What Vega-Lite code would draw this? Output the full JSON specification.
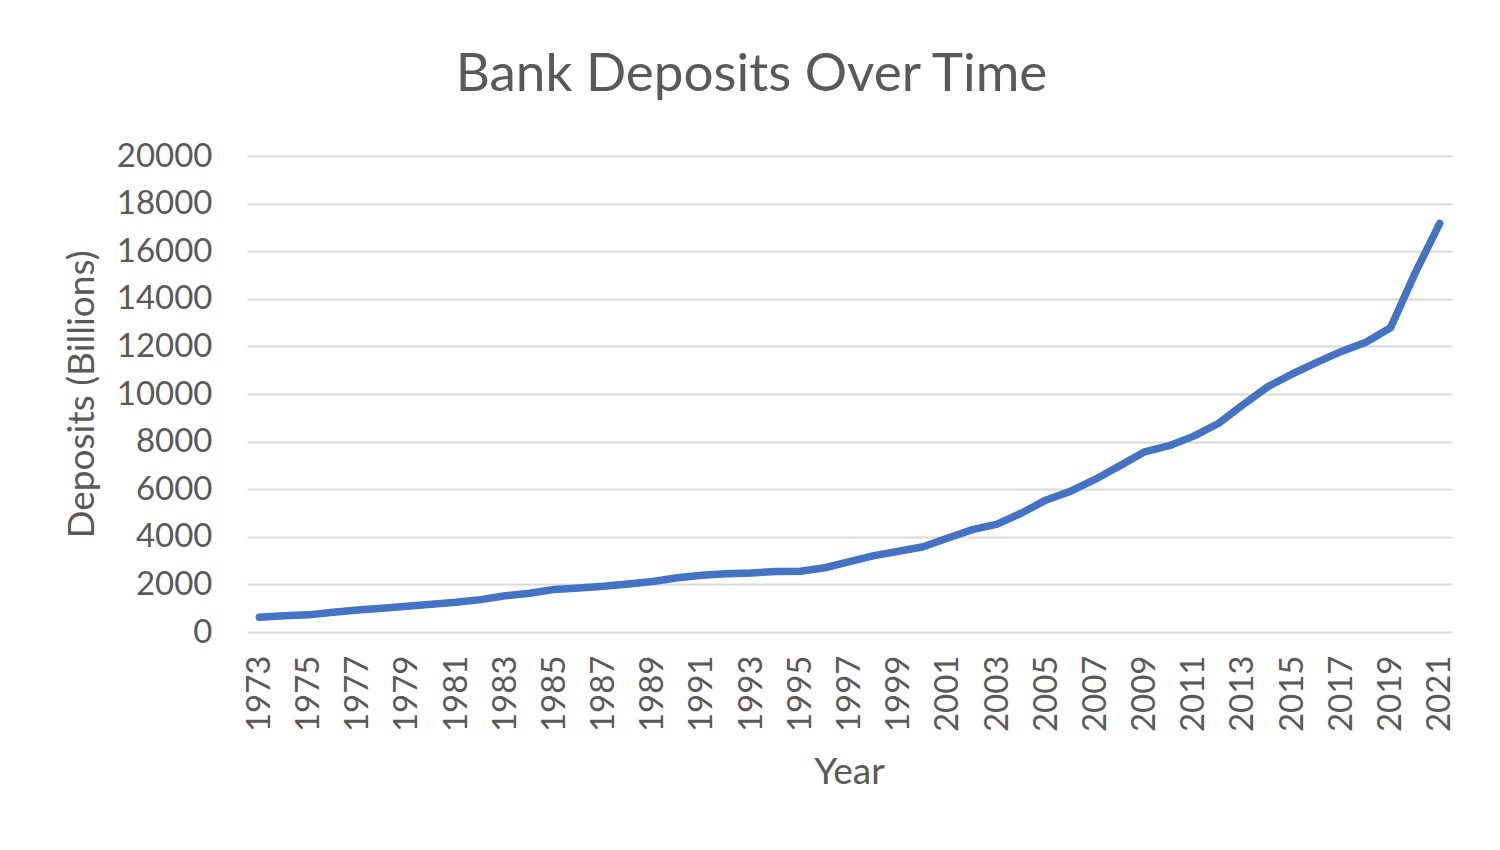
{
  "$schema": "https://vega.github.io/schema/vega-lite/v6.json",
  "width": 1205,
  "height": 476,
  "autosize": "none",
  "padding": {"left": 247, "top": 156, "right": 48, "bottom": 218},
  "background": "white",
  "title": {
    "text": "Bank Deposits Over Time",
    "font": "Lato",
    "fontSize": 53,
    "fontWeight": "normal",
    "color": "#595959",
    "anchor": "middle",
    "frame": "group",
    "dx": -98,
    "offset": 38
  },
  "data": {
    "values": [
      {"Year": 1973, "Deposits": 620},
      {"Year": 1974, "Deposits": 680},
      {"Year": 1975, "Deposits": 720},
      {"Year": 1976, "Deposits": 830},
      {"Year": 1977, "Deposits": 920},
      {"Year": 1978, "Deposits": 1000},
      {"Year": 1979, "Deposits": 1080},
      {"Year": 1980, "Deposits": 1170},
      {"Year": 1981, "Deposits": 1250},
      {"Year": 1982, "Deposits": 1360},
      {"Year": 1983, "Deposits": 1520},
      {"Year": 1984, "Deposits": 1630},
      {"Year": 1985, "Deposits": 1790},
      {"Year": 1986, "Deposits": 1850},
      {"Year": 1987, "Deposits": 1920},
      {"Year": 1988, "Deposits": 2020},
      {"Year": 1989, "Deposits": 2120},
      {"Year": 1990, "Deposits": 2280},
      {"Year": 1991, "Deposits": 2380},
      {"Year": 1992, "Deposits": 2450},
      {"Year": 1993, "Deposits": 2480},
      {"Year": 1994, "Deposits": 2540},
      {"Year": 1995, "Deposits": 2550},
      {"Year": 1996, "Deposits": 2700},
      {"Year": 1997, "Deposits": 2960},
      {"Year": 1998, "Deposits": 3210},
      {"Year": 1999, "Deposits": 3390},
      {"Year": 2000, "Deposits": 3580},
      {"Year": 2001, "Deposits": 3950},
      {"Year": 2002, "Deposits": 4300},
      {"Year": 2003, "Deposits": 4530},
      {"Year": 2004, "Deposits": 5000},
      {"Year": 2005, "Deposits": 5550},
      {"Year": 2006, "Deposits": 5920},
      {"Year": 2007, "Deposits": 6420},
      {"Year": 2008, "Deposits": 6990},
      {"Year": 2009, "Deposits": 7570},
      {"Year": 2010, "Deposits": 7830},
      {"Year": 2011, "Deposits": 8230},
      {"Year": 2012, "Deposits": 8760},
      {"Year": 2013, "Deposits": 9550},
      {"Year": 2014, "Deposits": 10300},
      {"Year": 2015, "Deposits": 10840},
      {"Year": 2016, "Deposits": 11330},
      {"Year": 2017, "Deposits": 11790},
      {"Year": 2018, "Deposits": 12170},
      {"Year": 2019, "Deposits": 12780},
      {"Year": 2020, "Deposits": 15080},
      {"Year": 2021, "Deposits": 17170}
    ]
  },
  "mark": {
    "type": "line",
    "color": "#4472C4",
    "strokeWidth": 7.5,
    "strokeCap": "round",
    "strokeJoin": "round"
  },
  "encoding": {
    "x": {
      "field": "Year",
      "type": "ordinal",
      "scale": {"type": "point", "padding": 0.5},
      "axis": {
        "values": [1973, 1975, 1977, 1979, 1981, 1983, 1985, 1987, 1989, 1991, 1993, 1995, 1997, 1999, 2001, 2003, 2005, 2007, 2009, 2011, 2013, 2015, 2017, 2019, 2021],
        "labelAngle": -90,
        "labelFont": "Lato",
        "labelFontSize": 33,
        "labelColor": "#595959",
        "labelPadding": 23,
        "ticks": false,
        "domain": false,
        "title": "Year",
        "titleFont": "Lato",
        "titleFontSize": 37,
        "titleFontWeight": "normal",
        "titleColor": "#595959",
        "titleX": 602,
        "titleY": 140,
        "titleBaseline": "middle"
      }
    },
    "y": {
      "field": "Deposits",
      "type": "quantitative",
      "scale": {"domain": [0, 20000]},
      "axis": {
        "values": [0, 2000, 4000, 6000, 8000, 10000, 12000, 14000, 16000, 18000, 20000],
        "format": "d",
        "grid": true,
        "gridColor": "#d9d9d9",
        "gridWidth": 2,
        "domain": false,
        "ticks": false,
        "labelFont": "Lato",
        "labelFontSize": 33,
        "labelColor": "#595959",
        "labelPadding": 35,
        "title": "Deposits (Billions)",
        "titleFont": "Lato",
        "titleFontSize": 37,
        "titleFontWeight": "normal",
        "titleColor": "#595959",
        "titleAngle": -90,
        "titleX": -165,
        "titleY": 238,
        "titleBaseline": "middle"
      }
    }
  },
  "config": {
    "view": {"stroke": null}
  }
}
